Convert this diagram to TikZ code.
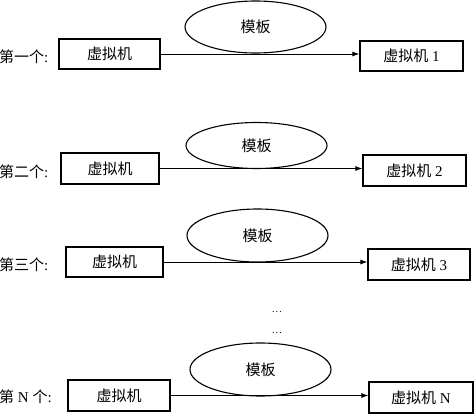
\documentclass[tikz,border=0pt]{standalone}
\usepackage{fontspec}
\setmainfont{Liberation Serif}
\newfontfamily\cjk{Noto Sans CJK SC}
\usetikzlibrary{shapes.geometric,arrows.meta}
\begin{document}
\begin{tikzpicture}[x=1pt,y=-1pt,
  vmbox/.style={draw,line width=1.1pt,minimum width=101pt,minimum height=30pt,inner sep=0pt,font=\fontsize{15}{15}\selectfont},
  tpl/.style={draw,ellipse,line width=1.1pt,minimum width=141pt,minimum height=52pt,inner sep=0pt,font=\fontsize{15}{15}\selectfont},
  lbl/.style={anchor=west,inner sep=0pt,font=\fontsize{15}{15}\selectfont},
  arr/.style={line width=1pt,-{Latex[length=7pt,width=5pt]}},
  dots/.style={inner sep=0pt,font=\fontsize{10}{10}\selectfont}]
\useasboundingbox (0,0) rectangle (474,415);
% row 1
\node[lbl] (n1) at (-1,57) {{\cjk 第一个}:};
\node[vmbox] (l1) at (109.5,54) {\cjk 虚拟机};
\node[tpl] (e1) at (255.5,27) {\cjk 模板};
\node[vmbox,minimum width=103pt] (r1) at (411.5,56) {{\cjk 虚拟机} 1};
\draw[arr] (l1.east) -- (l1.east -| r1.west);
% row 2
\node[lbl] (n2) at (-1,172) {{\cjk 第二个}:};
\node[vmbox,minimum width=98pt,minimum height=31pt] (l2) at (110,168.5) {\cjk 虚拟机};
\node[tpl,minimum height=46pt] (e2) at (256.5,145.5) {\cjk 模板};
\node[vmbox,minimum width=103pt,minimum height=31pt] (r2) at (414.5,170.5) {{\cjk 虚拟机} 2};
\draw[arr] (l2.east) -- (l2.east -| r2.west);
% row 3
\node[lbl] (n3) at (-1,265) {{\cjk 第三个}:};
\node[vmbox,minimum width=97pt] (l3) at (114.5,262) {\cjk 虚拟机};
\node[tpl,minimum height=53pt] (e3) at (257.5,235.5) {\cjk 模板};
\node[vmbox,minimum width=102pt,minimum height=31pt] (r3) at (419,264.5) {{\cjk 虚拟机} 3};
\draw[arr] (l3.east) -- (l3.east -| r3.west);
% dots
\node[dots] (d1) at (277,312) {.\kern1.2pt.\kern1.2pt.};
\node[dots] (d2) at (277,333) {.\kern1.2pt.\kern1.2pt.};
% row N
\node[lbl] (n4) at (-1,397) {{\cjk 第} N {\cjk 个}:};
\node[vmbox,minimum width=102pt,minimum height=31pt] (l4) at (119,395.5) {\cjk 虚拟机};
\node[tpl,minimum height=53pt] (e4) at (260.5,369.5) {\cjk 模板};
\node[vmbox,minimum width=104pt,minimum height=31pt] (r4) at (421,397.5) {{\cjk 虚拟机} N};
\draw[arr] (l4.east) -- (l4.east -| r4.west);
\end{tikzpicture}
\end{document}
